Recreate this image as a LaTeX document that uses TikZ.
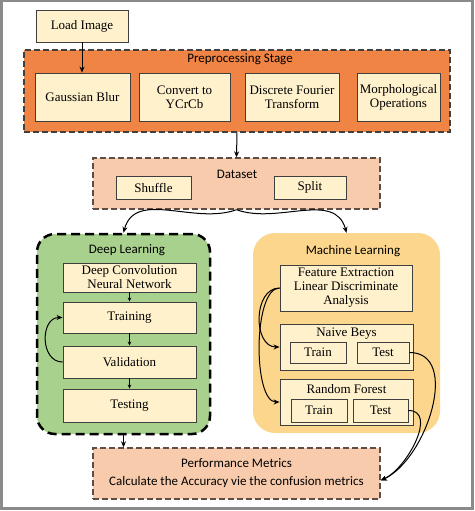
\documentclass[tikz,border=0pt]{standalone}
\usepackage{fontspec}
\setmainfont{Liberation Serif}
\newfontfamily\timesfont{Liberation Serif}
\newfontfamily\calibri{Carlito}
\usepackage{xcolor}
\definecolor{boxfill}{HTML}{FFF1CC}
\definecolor{boxline}{HTML}{3F3F3F}
\definecolor{preporange}{HTML}{EF8445}
\definecolor{peach}{HTML}{F8CBAD}
\definecolor{peachline}{HTML}{5E4D44}
\definecolor{dlgreen}{HTML}{A9D18E}
\definecolor{mlgold}{HTML}{FBD68C}
\definecolor{framegray}{HTML}{8A8A8A}
\usepackage{tikz}
\usetikzlibrary{
  positioning,
  arrows.meta
}

\begin{document}
\begin{tikzpicture}[
  x=1pt, y=1pt,
  >={Stealth[length=6pt,width=5pt]},
  stepbox/.style={
    rectangle, draw=boxline, fill=boxfill, line width=0.9pt,
    font=\timesfont\fontsize{13}{14}\selectfont, align=center, inner sep=2pt
  },
  stage/.style={
    rectangle, draw=peachline, line width=1.4pt,
    dash pattern=on 6pt off 3pt
  },
  ttl/.style={font=\calibri\fontsize{13}{15}\selectfont},
  flow/.style={->, line width=1pt},
  tiny/.style={-{Stealth[length=4pt,width=3.5pt]}, line width=0.7pt}
]
\useasboundingbox (0,0) rectangle (474,-511);
\draw[framegray, line width=2.5pt] (1.5,-1.2) rectangle (472.5,-508.5);

% preprocessing
\node[stepbox, minimum width=92, minimum height=32] (load) at (82,-26) {Load Image};
\node[stage, fill=preporange, draw=black!75, minimum width=426, minimum height=82]
  (prep) at (237,-91) {};
\node[ttl] (preptitle) at (240,-59) {Preprocessing Stage};
\node[stepbox, minimum width=95, minimum height=48] (gauss) at (82.5,-97) {Gaussian Blur};
\node[stepbox, minimum width=91, minimum height=48] (ycrcb) at (184.5,-97) {Convert to\\YCrCb};
\node[stepbox, minimum width=94, minimum height=48] (dft) at (292,-97) {Discrete Fourier\\Transform};
\node[stepbox, minimum width=83, minimum height=48] (morph) at (398.5,-97) {Morphological\\Operations};

% dataset
\node[stage, fill=peach, minimum width=287, minimum height=51] (dataset) at (236.5,-183.5) {};
\node[ttl] (datatitle) at (237,-174) {Dataset};
\node[stepbox, minimum width=75, minimum height=23] (shuffle) at (153.5,-187.5) {Shuffle};
\node[stepbox, minimum width=72, minimum height=23] (split) at (310,-187.5) {Split};

% deep learning
\node[rectangle, rounded corners=18pt, fill=dlgreen, draw=black, line width=2.5pt,
  dash pattern=on 9pt off 5pt, minimum width=173, minimum height=200] (deep) at (123.5,-334) {};
\node[ttl] (deeptitle) at (127,-250) {Deep Learning};
\node[stepbox, minimum width=133, minimum height=29] (dcnn) at (129.5,-277.5) {Deep Convolution\\Neural Network};
\node[stepbox, minimum width=133, minimum height=31] (train) at (129.5,-317.5) {Training};
\node[stepbox, minimum width=133, minimum height=32] (valid) at (129.5,-362) {Validation};
\node[stepbox, minimum width=133, minimum height=33] (test) at (129.5,-405.5) {Testing};

% machine learning
\node[rectangle, rounded corners=22pt, fill=mlgold, minimum width=187, minimum height=200]
  (ml) at (346.5,-333) {};
\node[ttl] (mltitle) at (353,-251) {Machine Learning};
\node[stepbox, minimum width=132, minimum height=46] (feat) at (346,-288)
  {Feature Extraction\\Linear Discriminate\\Analysis};
\node[stepbox, minimum width=133, minimum height=46] (nb) at (346.5,-347) {};
\node[font=\timesfont\fontsize{13}{14}\selectfont] (nbtitle) at (346.5,-334) {Naive Beys};
\node[stepbox, minimum width=56, minimum height=21] (nbtrain) at (318,-352.5) {Train};
\node[stepbox, minimum width=52, minimum height=21] (nbtest) at (383,-352.5) {Test};
\node[stepbox, minimum width=133, minimum height=46] (rf) at (346.5,-402) {};
\node[font=\timesfont\fontsize{13}{14}\selectfont] (rftitle) at (346.5,-389) {Random Forest};
\node[stepbox, minimum width=56, minimum height=23] (rftrain) at (319,-410.5) {Train};
\node[stepbox, minimum width=55, minimum height=23] (rftest) at (380.5,-410.5) {Test};

% metrics
\node[stage, fill=peach, minimum width=287, minimum height=51, align=center,
  font=\calibri\fontsize{13}{18}\selectfont] (perf) at (236.5,-473.5)
  {Performance Metrics\\Calculate the Accuracy vie the confusion metrics};
\coordinate (perfin) at ([yshift=-7pt]perf.east);

\draw[flow] (load.south) -- (load.south |- gauss.north);
\draw[flow] (prep.south) -- (dataset.north);
\draw[flow] (dataset.south) to[out=-160,in=75] (deep.north);
\draw[flow] (dataset.south) to[out=-20,in=105] (ml.north);

\draw[tiny] (dcnn) -- (train);
\draw[tiny] (train) -- (valid);
\draw[tiny] (valid) -- (test);
\draw[flow] (valid.west) to[out=180,in=180,looseness=1.3] (train.west);

\draw[flow] (feat.west) to[out=180,in=180,looseness=1.16] (nb.west);
\draw[flow] (feat.west) to[out=180,in=180,looseness=0.6] (rf.west);
\draw[flow] (nbtest.east) to[out=0,in=25] (perfin);
\draw[flow] (rftest.east) to[out=0,in=25] (perfin);
\draw[flow] (deep.south) -- (deep.south |- perf.north);

\end{tikzpicture}
\end{document}
